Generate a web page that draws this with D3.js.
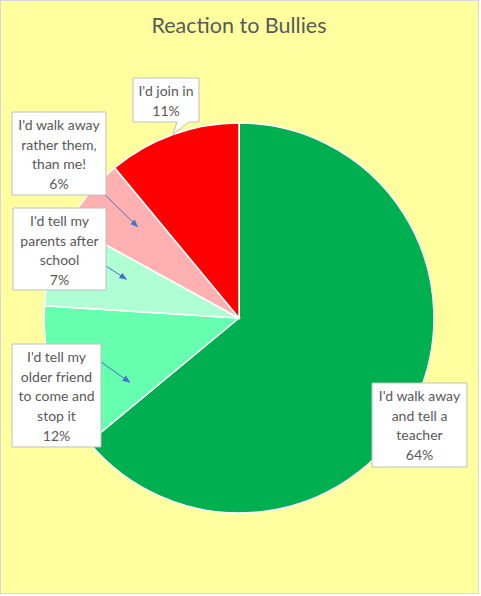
<!DOCTYPE html>
<html>
<head>
<meta charset="utf-8">
<script src="https://cdn.jsdelivr.net/npm/d3@7"></script>
<style>
  body { margin: 0; background: #fff; }
  svg text { font-family: Lato, "Open Sans", sans-serif; fill: #595959; }
</style>
</head>
<body>
<div id="chart"></div>
<script>
var title = "Reaction to Bullies"
var categories = [
  "I'd walk away and tell a teacher",
  "I'd tell my older friend to come and stop it",
  "I'd tell my parents after school",
  "I'd walk away rather them, than me!",
  "I'd join in"
]
var values = [64, 12, 7, 6, 11]
var labelLines = [
  ["I'd walk away", "and tell a", "teacher"],
  ["I'd tell my", "older friend", "to come and", "stop it"],
  ["I'd tell my", "parents after", "school"],
  ["I'd walk away", "rather them,", "than me!"],
  ["I'd join in"]
]
var colors = ["#00B050", "#66FFB0", "#B0FFD4", "#FFB0B0", "#FF0000"]

// label box layout (x, y, w, h); arrow start, and where in the slice it points
// (fraction along the slice angle, fraction of radius)
var layout = [
  {x: 372, y: 383, w: 95, h: 84},
  {x: 12, y: 344, w: 89, h: 103, arrow: [94, 357], at: [0.21, 0.65]},
  {x: 13, y: 208, w: 93, h: 82, arrow: [92, 257], at: [0.61, 0.61]},
  {x: 12, y: 112, w: 94, h: 83, arrow: [95, 185], at: [0.61, 0.70]},
  {x: 133, y: 78, w: 66, h: 44, callout: true}
]

var width = 481, height = 596
var cx = 239, cy = 318, radius = 195

var svg = d3.select("#chart").append("svg")
  .attr("width", width)
  .attr("height", height)

svg.append("defs").append("marker")
  .attr("id", "arrow")
  .attr("viewBox", "0 0 10 10")
  .attr("refX", 9).attr("refY", 5)
  .attr("markerWidth", 8).attr("markerHeight", 8)
  .attr("markerUnits", "userSpaceOnUse")
  .attr("orient", "auto")
  .append("path")
  .attr("d", "M0,1L10,5L0,9z")
  .attr("fill", "#4472C4")

svg.append("rect")
  .attr("x", 0.5).attr("y", 0.5)
  .attr("width", 478).attr("height", 593)
  .attr("fill", "#FFFF9F")
  .attr("stroke", "#D9D9D9")

svg.append("text")
  .attr("x", cx).attr("y", 33)
  .attr("text-anchor", "middle")
  .style("font-size", "21.5px")
  .text(title)

var pie = d3.pie().sort(null).value(d => d)
var arcs = pie(values)
var arc = d3.arc().innerRadius(0).outerRadius(radius)

function pointIn(d, t, rr) {
  var a = d.startAngle + (d.endAngle - d.startAngle) * t
  return [cx + Math.sin(a) * radius * rr, cy - Math.cos(a) * radius * rr]
}

var g = svg.append("g").attr("transform", "translate(" + cx + "," + cy + ")")

g.selectAll("path.slice")
  .data(arcs)
  .join("path")
  .attr("class", "slice")
  .attr("d", arc)
  .attr("fill", (d, i) => colors[i])
  .attr("stroke", "#fff")
  .attr("stroke-width", 1.5)

// arrows from labels into slices
arcs.forEach(function(d, i) {
  var l = layout[i]
  if (!l.arrow) return
  var p = pointIn(d, l.at[0], l.at[1])
  svg.append("line")
    .attr("x1", l.arrow[0]).attr("y1", l.arrow[1])
    .attr("x2", p[0]).attr("y2", p[1])
    .attr("stroke", "#4472C4")
    .attr("stroke-width", 1)
    .attr("marker-end", "url(#arrow)")
})

var labels = svg.selectAll("g.label")
  .data(arcs)
  .join("g")
  .attr("class", "label")
  .attr("transform", (d, i) => "translate(" + layout[i].x + "," + layout[i].y + ")")

labels.append("path")
  .attr("d", function(d, i) {
    var l = layout[i]
    if (l.callout) {
      // box with a pointer down to the middle of the slice's edge
      var p = pointIn(d, 0.5, 1)
      return "M0,0H" + l.w + "V" + l.h + "H" + (l.w - 10) +
        "L" + (p[0] - l.x) + "," + (p[1] - l.y) + "L" + (l.w - 22) + "," + l.h + "H0Z"
    }
    return "M0,0H" + l.w + "V" + l.h + "H0Z"
  })
  .attr("fill", "#fff")
  .attr("stroke", "#BFBFBF")

labels.each(function(d, i) {
  var l = layout[i]
  var lines = labelLines[i].concat([Math.round(d.data) + "%"])
  var t = d3.select(this).append("text")
    .attr("text-anchor", "middle")
    .style("font-size", "14px")
  lines.forEach(function(s, k) {
    t.append("tspan")
      .attr("x", l.w / 2)
      .attr("y", 18 + k * 19.7)
      .text(s)
  })
})
</script>
</body>
</html>
